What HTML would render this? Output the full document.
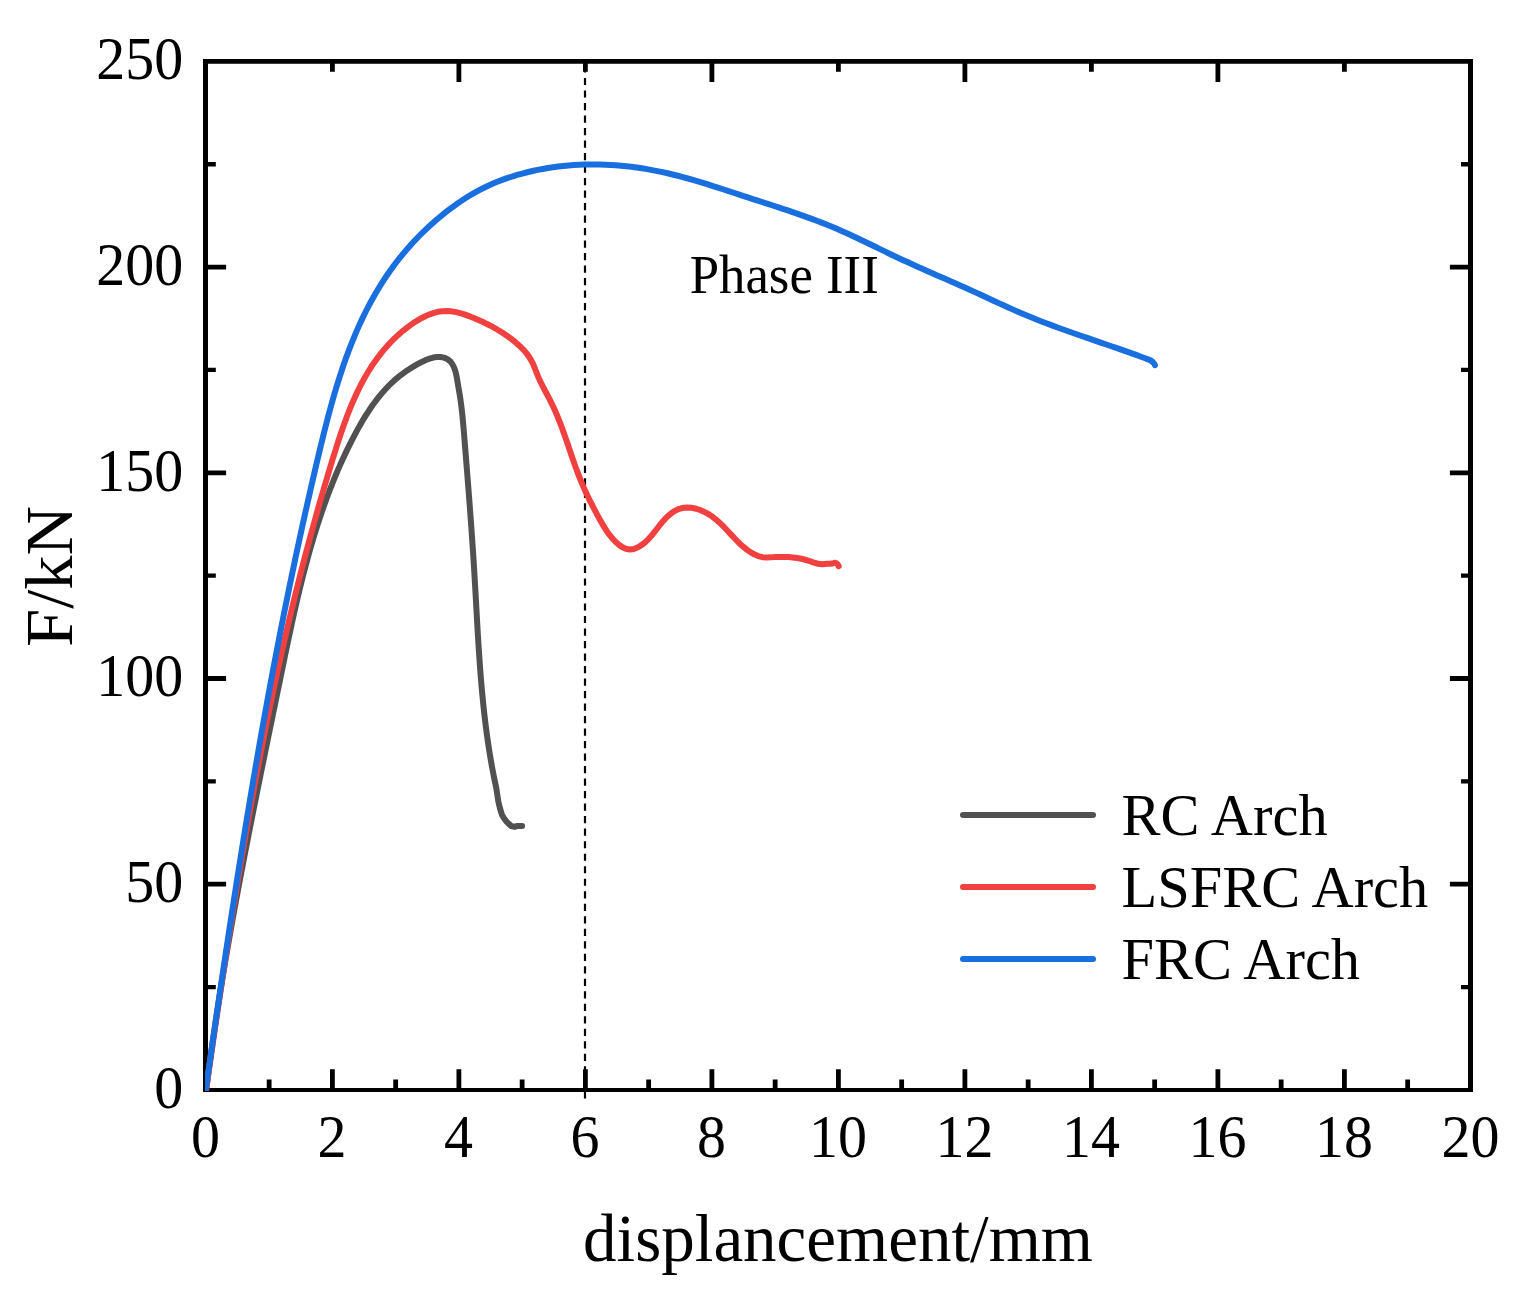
<!DOCTYPE html>
<html lang="en"><head><meta charset="utf-8"><title>F-displacement curves</title>
<style>
html,body{margin:0;padding:0;background:#fff;}
body{width:1520px;height:1295px;overflow:hidden;}
svg{display:block;}
text{font-family:"Liberation Serif",serif;fill:#000;}
</style></head><body>
<svg width="1520" height="1295" viewBox="0 0 1520 1295">
<rect x="0" y="0" width="1520" height="1295" fill="#fff"/>
<defs><clipPath id="clip"><rect x="205.00" y="59.00" width="1268.00" height="1031.80"/></clipPath></defs>
<path d="M203 58.9H1473V1091.9H203Z M208 63.8V1088H1468V63.8Z" fill="#000" fill-rule="evenodd"/>
<path d="M269.15 1089.90 V1079.60 M332.40 1089.90 V1069.30 M332.40 61.40 V71.70 M395.65 1089.90 V1079.60 M458.90 1089.90 V1069.30 M458.90 61.40 V82.00 M522.15 1089.90 V1079.60 M585.40 1089.90 V1069.30 M585.40 61.40 V71.70 M648.65 1089.90 V1079.60 M711.90 1089.90 V1069.30 M711.90 61.40 V82.00 M775.15 1089.90 V1079.60 M838.40 1089.90 V1069.30 M838.40 61.40 V71.70 M901.65 1089.90 V1079.60 M964.90 1089.90 V1069.30 M964.90 61.40 V82.00 M1028.15 1089.90 V1079.60 M1091.40 1089.90 V1069.30 M1091.40 61.40 V71.70 M1154.65 1089.90 V1079.60 M1217.90 1089.90 V1069.30 M1217.90 61.40 V82.00 M1281.15 1089.90 V1079.60 M1344.40 1089.90 V1069.30 M1344.40 61.40 V71.70 M1407.65 1089.90 V1079.60 M205.50 884.20 H226.10 M1470.50 884.20 H1449.90 M205.50 678.50 H226.10 M1470.50 678.50 H1449.90 M205.50 472.80 H226.10 M1470.50 472.80 H1449.90 M205.50 267.10 H226.10 M1470.50 267.10 H1449.90" stroke="#000" stroke-width="4.80" fill="none"/>
<path d="M205.50 987.05 H215.80 M1470.50 987.05 H1461.00 M205.50 781.35 H215.80 M1470.50 781.35 H1461.00 M205.50 575.65 H215.80 M1470.50 575.65 H1461.00 M205.50 369.95 H215.80 M1470.50 369.95 H1461.00 M205.50 164.25 H215.80 M1470.50 164.25 H1461.00" stroke="#000" stroke-width="4.3" fill="none"/>
<path d="M585.00 65.39 V1098.70" stroke="#000" stroke-width="2.2" stroke-dasharray="7.2 5.312" fill="none"/>
<g clip-path="url(#clip)" fill="none" stroke-width="6" stroke-linecap="round" stroke-linejoin="round">
<path d="M206.20 1090.24 L206.68 1086.40 L207.16 1082.57 L207.66 1078.73 L208.15 1074.90 L208.66 1071.06 L209.17 1067.23 L209.68 1063.39 L210.20 1059.56 L210.73 1055.73 L211.26 1051.89 L211.80 1048.06 L212.34 1044.23 L212.89 1040.40 L213.44 1036.57 L214.00 1032.74 L214.56 1028.91 L215.13 1025.08 L215.70 1021.25 L216.28 1017.42 L216.86 1013.59 L217.45 1009.77 L218.04 1005.94 L218.64 1002.11 L219.24 998.29 L219.85 994.46 L220.46 990.63 L221.08 986.81 L221.70 982.98 L222.32 979.16 L222.95 975.34 L223.59 971.51 L224.22 967.69 L224.87 963.87 L225.51 960.05 L226.16 956.22 L226.81 952.40 L227.47 948.58 L228.13 944.76 L228.80 940.94 L229.47 937.12 L230.14 933.30 L230.81 929.48 L231.49 925.67 L232.18 921.85 L232.86 918.03 L233.55 914.21 L234.25 910.40 L234.94 906.58 L235.64 902.76 L236.34 898.95 L237.05 895.13 L237.76 891.32 L238.47 887.50 L239.18 883.69 L239.90 879.87 L240.62 876.06 L241.34 872.25 L242.07 868.44 L242.80 864.62 L243.53 860.81 L244.26 857.00 L244.99 853.19 L245.73 849.38 L246.47 845.57 L247.21 841.76 L247.96 837.95 L248.70 834.14 L249.45 830.33 L250.20 826.52 L250.95 822.71 L251.71 818.91 L252.46 815.10 L253.22 811.29 L253.98 807.49 L254.74 803.68 L255.50 799.87 L256.26 796.07 L257.03 792.26 L257.80 788.46 L258.56 784.65 L259.33 780.85 L260.10 777.04 L260.87 773.24 L261.65 769.44 L262.42 765.64 L263.19 761.83 L263.97 758.03 L264.74 754.23 L265.52 750.43 L266.30 746.63 L267.08 742.83 L267.86 739.02 L268.63 735.22 L269.41 731.43 L270.19 727.63 L270.97 723.83 L271.76 720.03 L272.54 716.23 L273.32 712.43 L274.10 708.63 L274.88 704.84 L275.66 701.04 L276.44 697.24 L277.22 693.44 L278.00 689.65 L278.79 685.85 L279.57 682.06 L280.35 678.26 L281.13 674.47 L281.90 670.67 L282.69 666.88 L283.47 663.08 L284.25 659.29 L285.03 655.50 L285.82 651.71 L286.61 647.92 L287.41 644.13 L288.20 640.35 L289.01 636.56 L289.81 632.78 L290.63 629.00 L291.45 625.22 L292.27 621.44 L293.10 617.66 L293.94 613.89 L294.79 610.12 L295.65 606.35 L296.52 602.59 L297.39 598.83 L298.28 595.07 L299.17 591.31 L300.08 587.56 L301.00 583.81 L301.93 580.06 L302.87 576.32 L303.83 572.58 L304.80 568.85 L305.78 565.12 L306.78 561.39 L307.80 557.67 L308.83 553.95 L309.87 550.24 L310.94 546.53 L312.01 542.82 L313.11 539.13 L314.23 535.43 L315.36 531.74 L316.51 528.06 L317.69 524.38 L318.88 520.71 L320.09 517.04 L321.33 513.38 L322.58 509.72 L323.86 506.08 L325.16 502.43 L326.48 498.80 L327.83 495.17 L329.20 491.54 L330.60 487.92 L332.02 484.31 L333.47 480.71 L334.94 477.12 L336.44 473.53 L337.97 469.94 L339.52 466.37 L341.10 462.80 L342.71 459.25 L344.35 455.69 L346.02 452.15 L347.72 448.62 L349.45 445.09 L351.22 441.57 L353.01 438.06 L354.84 434.56 L356.70 431.08 L358.60 427.62 L360.55 424.18 L362.53 420.77 L364.57 417.40 L366.65 414.06 L368.79 410.77 L370.97 407.52 L373.22 404.32 L375.53 401.18 L377.89 398.10 L380.33 395.08 L382.82 392.13 L385.39 389.26 L388.04 386.46 L390.75 383.75 L393.55 381.13 L396.44 378.60 L399.40 376.18 L402.45 373.85 L405.56 371.60 L408.74 369.44 L412.00 367.37 L415.34 365.37 L418.77 363.46 L422.30 361.65 L425.91 360.00 L429.56 358.60 L433.23 357.56 L436.89 356.97 L440.50 356.97 L443.98 357.63 L447.22 359.00 L450.06 361.13 L452.34 364.01 L454.09 367.48 L455.39 371.32 L456.36 375.31 L457.11 379.33 L457.78 383.30 L458.44 387.17 L459.09 390.98 L459.71 394.76 L460.30 398.53 L460.84 402.32 L461.33 406.13 L461.79 409.95 L462.21 413.79 L462.60 417.64 L462.96 421.50 L463.31 425.36 L463.64 429.23 L463.96 433.10 L464.28 436.97 L464.60 440.85 L464.91 444.72 L465.22 448.59 L465.54 452.46 L465.85 456.33 L466.16 460.19 L466.47 464.06 L466.78 467.93 L467.09 471.79 L467.40 475.66 L467.70 479.52 L468.01 483.39 L468.31 487.25 L468.61 491.12 L468.91 494.98 L469.21 498.84 L469.50 502.71 L469.79 506.57 L470.08 510.43 L470.37 514.30 L470.66 518.16 L470.94 522.02 L471.22 525.88 L471.50 529.75 L471.77 533.61 L472.04 537.47 L472.31 541.34 L472.57 545.20 L472.83 549.07 L473.09 552.93 L473.34 556.80 L473.59 560.66 L473.83 564.53 L474.07 568.40 L474.31 572.27 L474.54 576.13 L474.77 580.00 L475.00 583.87 L475.22 587.74 L475.44 591.62 L475.66 595.49 L475.87 599.36 L476.09 603.23 L476.30 607.10 L476.52 610.98 L476.74 614.85 L476.95 618.72 L477.17 622.59 L477.40 626.47 L477.62 630.34 L477.85 634.21 L478.09 638.08 L478.32 641.95 L478.57 645.82 L478.82 649.69 L479.07 653.56 L479.34 657.43 L479.61 661.30 L479.88 665.16 L480.17 669.03 L480.47 672.90 L480.77 676.76 L481.09 680.62 L481.41 684.48 L481.75 688.34 L482.10 692.20 L482.46 696.06 L482.84 699.91 L483.23 703.77 L483.63 707.62 L484.05 711.47 L484.48 715.32 L484.92 719.16 L485.39 723.01 L485.87 726.85 L486.37 730.69 L486.88 734.53 L487.42 738.36 L487.97 742.20 L488.54 746.03 L489.13 749.86 L489.75 753.68 L490.38 757.51 L491.03 761.33 L491.71 765.14 L492.41 768.96 L493.14 772.77 L493.88 776.58 L494.66 780.38 L495.45 784.19 L496.27 787.99 L498.40 801.90 L500.00 808.50 L501.90 814.70 L504.00 818.30 L506.50 821.60 L511.10 826.00 L514.60 826.80 L517.50 825.90 L522.10 825.90" stroke="#515151"/>
<path d="M205.97 1090.44 L206.59 1086.10 L207.22 1081.75 L207.84 1077.41 L208.47 1073.07 L209.10 1068.73 L209.73 1064.39 L210.36 1060.05 L210.99 1055.71 L211.62 1051.37 L212.25 1047.04 L212.88 1042.70 L213.51 1038.37 L214.15 1034.04 L214.78 1029.71 L215.42 1025.38 L216.06 1021.05 L216.70 1016.72 L217.34 1012.39 L217.98 1008.07 L218.62 1003.74 L219.27 999.42 L219.92 995.09 L220.56 990.77 L221.21 986.45 L221.87 982.13 L222.52 977.81 L223.18 973.49 L223.83 969.18 L224.49 964.86 L225.15 960.55 L225.82 956.23 L226.48 951.92 L227.15 947.61 L227.82 943.30 L228.49 938.99 L229.17 934.68 L229.85 930.37 L230.53 926.07 L231.21 921.76 L231.89 917.46 L232.58 913.15 L233.27 908.85 L233.96 904.55 L234.66 900.25 L235.36 895.95 L236.06 891.65 L236.76 887.35 L237.47 883.05 L238.18 878.76 L238.90 874.46 L239.61 870.17 L240.33 865.88 L241.06 861.58 L241.78 857.29 L242.51 853.00 L243.25 848.71 L243.98 844.43 L244.73 840.14 L245.47 835.85 L246.22 831.57 L246.97 827.28 L247.73 823.00 L248.49 818.71 L249.25 814.43 L250.02 810.15 L250.79 805.87 L251.57 801.59 L252.34 797.31 L253.13 793.04 L253.92 788.76 L254.71 784.49 L255.51 780.21 L256.31 775.94 L257.11 771.66 L257.93 767.39 L258.74 763.12 L259.56 758.85 L260.38 754.58 L261.21 750.31 L262.05 746.05 L262.89 741.78 L263.73 737.51 L264.58 733.25 L265.43 728.98 L266.29 724.72 L267.16 720.46 L268.03 716.20 L268.90 711.94 L269.78 707.68 L270.67 703.42 L271.56 699.16 L272.45 694.90 L273.35 690.65 L274.26 686.39 L275.17 682.13 L276.09 677.88 L277.02 673.63 L277.95 669.37 L278.88 665.12 L279.83 660.87 L280.77 656.62 L281.73 652.37 L282.69 648.12 L283.65 643.88 L284.63 639.63 L285.61 635.38 L286.59 631.14 L287.58 626.89 L288.58 622.65 L289.58 618.41 L290.60 614.17 L291.61 609.92 L292.64 605.68 L293.67 601.44 L294.71 597.21 L295.75 592.97 L296.80 588.73 L297.86 584.49 L298.93 580.26 L300.00 576.02 L301.08 571.79 L302.16 567.55 L303.26 563.32 L304.36 559.09 L305.47 554.86 L306.58 550.63 L307.71 546.40 L308.84 542.17 L309.98 537.94 L311.12 533.71 L312.27 529.48 L313.44 525.26 L314.61 521.03 L315.78 516.81 L316.97 512.58 L318.16 508.36 L319.36 504.14 L320.57 499.91 L321.79 495.69 L323.01 491.47 L324.24 487.25 L325.49 483.03 L326.74 478.81 L327.99 474.59 L329.26 470.38 L330.54 466.16 L331.82 461.94 L333.11 457.73 L334.41 453.52 L335.73 449.31 L337.06 445.10 L338.41 440.91 L339.79 436.73 L341.19 432.56 L342.62 428.40 L344.08 424.27 L345.57 420.15 L347.10 416.06 L348.68 411.99 L350.30 407.95 L351.96 403.94 L353.68 399.96 L355.45 396.02 L357.27 392.11 L359.16 388.24 L361.10 384.41 L363.11 380.62 L365.19 376.88 L367.35 373.19 L369.57 369.55 L371.88 365.96 L374.27 362.42 L376.74 358.95 L379.29 355.53 L381.94 352.17 L384.68 348.88 L387.52 345.66 L390.45 342.49 L393.49 339.40 L396.63 336.38 L399.89 333.44 L403.27 330.58 L406.77 327.81 L410.39 325.14 L414.10 322.58 L417.91 320.19 L421.80 317.98 L425.75 316.00 L429.77 314.29 L433.85 312.89 L437.97 311.83 L442.15 311.18 L446.37 310.96 L450.64 311.21 L454.93 311.87 L459.24 312.88 L463.53 314.17 L467.79 315.67 L471.99 317.30 L476.11 319.00 L480.15 320.76 L484.11 322.58 L487.99 324.47 L491.81 326.45 L495.56 328.53 L499.25 330.71 L502.88 333.00 L506.46 335.41 L509.99 337.95 L513.47 340.63 L516.88 343.45 L520.17 346.43 L523.28 349.57 L526.18 352.88 L528.79 356.38 L531.09 360.07 L533.03 363.95 L534.72 367.97 L536.31 372.04 L537.94 376.10 L539.70 380.09 L541.59 384.01 L543.57 387.90 L545.60 391.76 L547.64 395.61 L549.66 399.47 L551.63 403.36 L553.50 407.29 L555.30 411.27 L557.02 415.28 L558.67 419.32 L560.27 423.39 L561.82 427.49 L563.32 431.60 L564.79 435.73 L566.23 439.87 L567.65 444.02 L569.06 448.16 L570.47 452.31 L571.88 456.45 L573.31 460.59 L574.76 464.70 L576.23 468.80 L577.75 472.88 L579.31 476.93 L580.92 480.94 L582.59 484.93 L584.32 488.88 L586.11 492.80 L587.96 496.71 L589.86 500.59 L591.81 504.47 L593.81 508.34 L595.86 512.21 L597.95 516.08 L600.09 519.96 L602.29 523.84 L604.57 527.66 L606.98 531.39 L609.54 534.98 L612.30 538.38 L615.29 541.55 L618.53 544.45 L622.06 546.96 L625.83 548.77 L629.80 549.51 L633.90 548.93 L637.98 547.28 L641.85 544.90 L645.36 542.11 L648.51 539.06 L651.41 535.82 L654.15 532.43 L656.81 528.96 L659.50 525.48 L662.30 522.03 L665.29 518.69 L668.50 515.58 L671.91 512.81 L675.54 510.51 L679.37 508.79 L683.42 507.78 L687.63 507.49 L691.94 507.84 L696.27 508.76 L700.53 510.18 L704.67 512.01 L708.59 514.17 L712.27 516.61 L715.73 519.28 L719.01 522.14 L722.15 525.14 L725.19 528.25 L728.17 531.43 L731.12 534.64 L734.08 537.83 L737.09 540.97 L740.19 544.01 L743.42 546.91 L746.81 549.64 L750.41 552.15 L754.20 554.33 L758.18 556.05 L762.32 557.14 L766.60 557.52 L770.97 557.37 L775.37 557.11 L779.75 556.95 L784.12 556.93 L788.47 557.07 L792.79 557.40 L797.08 557.94 L801.34 558.72 L805.56 559.77 L809.73 561.10 L813.89 562.55 L818.08 563.75 L822.36 564.31 L826.79 563.84 L830.00 563.80 L832.40 563.50 L834.70 562.80 L836.20 563.10 L837.30 564.00 L838.20 565.30 L838.70 566.20" stroke="#F14040"/>
<path d="M205.66 1090.65 L206.41 1085.39 L207.17 1080.12 L207.92 1074.86 L208.68 1069.61 L209.44 1064.35 L210.20 1059.10 L210.95 1053.86 L211.71 1048.61 L212.47 1043.37 L213.23 1038.14 L214.00 1032.90 L214.76 1027.67 L215.52 1022.44 L216.28 1017.22 L217.05 1012.00 L217.82 1006.78 L218.58 1001.56 L219.35 996.35 L220.12 991.14 L220.89 985.93 L221.66 980.72 L222.44 975.52 L223.21 970.32 L223.99 965.12 L224.77 959.93 L225.55 954.74 L226.33 949.54 L227.11 944.36 L227.90 939.17 L228.69 933.99 L229.48 928.81 L230.27 923.63 L231.06 918.45 L231.86 913.28 L232.66 908.10 L233.46 902.93 L234.26 897.76 L235.06 892.60 L235.87 887.43 L236.68 882.27 L237.49 877.11 L238.31 871.95 L239.13 866.79 L239.95 861.63 L240.77 856.48 L241.60 851.33 L242.43 846.18 L243.26 841.03 L244.09 835.88 L244.93 830.73 L245.77 825.58 L246.62 820.44 L247.46 815.30 L248.31 810.15 L249.17 805.01 L250.03 799.87 L250.89 794.73 L251.75 789.60 L252.62 784.46 L253.49 779.32 L254.37 774.19 L255.25 769.05 L256.13 763.92 L257.02 758.79 L257.91 753.66 L258.81 748.52 L259.71 743.39 L260.61 738.26 L261.52 733.13 L262.43 728.00 L263.35 722.88 L264.27 717.75 L265.19 712.62 L266.12 707.49 L267.06 702.37 L268.00 697.24 L268.94 692.11 L269.89 686.98 L270.84 681.86 L271.80 676.73 L272.76 671.61 L273.73 666.48 L274.70 661.35 L275.68 656.23 L276.67 651.10 L277.65 645.97 L278.65 640.84 L279.65 635.72 L280.65 630.59 L281.66 625.46 L282.68 620.33 L283.70 615.20 L284.72 610.07 L285.76 604.94 L286.79 599.81 L287.84 594.68 L288.89 589.54 L289.94 584.41 L291.00 579.28 L292.07 574.14 L293.15 569.01 L294.23 563.87 L295.31 558.73 L296.40 553.59 L297.50 548.45 L298.61 543.31 L299.72 538.17 L300.84 533.03 L301.96 527.88 L303.09 522.74 L304.23 517.59 L305.37 512.44 L306.53 507.29 L307.68 502.14 L308.85 496.99 L310.02 491.83 L311.20 486.68 L312.39 481.52 L313.58 476.36 L314.78 471.20 L315.99 466.04 L317.20 460.87 L318.43 455.71 L319.66 450.54 L320.90 445.37 L322.16 440.21 L323.43 435.05 L324.72 429.89 L326.03 424.74 L327.36 419.59 L328.71 414.46 L330.09 409.33 L331.50 404.21 L332.93 399.11 L334.40 394.02 L335.90 388.94 L337.44 383.88 L339.02 378.84 L340.63 373.82 L342.29 368.81 L343.99 363.83 L345.73 358.86 L347.53 353.93 L349.37 349.01 L351.27 344.12 L353.22 339.26 L355.22 334.43 L357.29 329.63 L359.41 324.86 L361.60 320.12 L363.84 315.42 L366.16 310.75 L368.54 306.11 L371.00 301.51 L373.52 296.96 L376.13 292.44 L378.80 287.96 L381.56 283.53 L384.39 279.14 L387.31 274.79 L390.30 270.50 L393.37 266.26 L396.52 262.07 L399.74 257.94 L403.04 253.86 L406.41 249.85 L409.86 245.91 L413.38 242.03 L416.97 238.22 L420.63 234.48 L424.36 230.83 L428.15 227.24 L432.01 223.74 L435.92 220.30 L439.90 216.95 L443.93 213.67 L448.02 210.47 L452.16 207.35 L456.36 204.31 L460.62 201.37 L464.95 198.52 L469.34 195.77 L473.81 193.14 L478.35 190.62 L482.97 188.23 L487.67 185.97 L492.43 183.83 L497.27 181.81 L502.16 179.92 L507.11 178.16 L512.11 176.51 L517.14 174.98 L522.21 173.56 L527.29 172.24 L532.40 171.04 L537.52 169.94 L542.66 168.94 L547.81 168.04 L552.98 167.24 L558.16 166.54 L563.36 165.95 L568.57 165.45 L573.79 165.05 L579.02 164.76 L584.26 164.55 L589.50 164.45 L594.74 164.44 L599.99 164.52 L605.24 164.69 L610.49 164.95 L615.73 165.30 L620.97 165.73 L626.20 166.25 L631.42 166.85 L636.63 167.54 L641.83 168.31 L647.01 169.15 L652.18 170.08 L657.33 171.08 L662.46 172.15 L667.57 173.30 L672.67 174.51 L677.74 175.78 L682.80 177.12 L687.85 178.50 L692.88 179.93 L697.90 181.41 L702.91 182.92 L707.92 184.47 L712.91 186.04 L717.91 187.63 L722.89 189.25 L727.88 190.87 L732.86 192.51 L737.85 194.15 L742.83 195.78 L747.82 197.42 L752.82 199.04 L757.81 200.65 L762.81 202.27 L767.81 203.88 L772.80 205.51 L777.79 207.14 L782.78 208.78 L787.75 210.44 L792.72 212.12 L797.68 213.83 L802.63 215.57 L807.57 217.34 L812.49 219.14 L817.39 220.99 L822.27 222.87 L827.14 224.81 L831.98 226.80 L836.80 228.84 L841.60 230.94 L846.38 233.08 L851.15 235.26 L855.90 237.48 L860.64 239.72 L865.37 241.99 L870.09 244.27 L874.81 246.56 L879.52 248.86 L884.24 251.15 L888.97 253.43 L893.70 255.70 L898.43 257.94 L903.18 260.16 L907.94 262.35 L912.71 264.52 L917.49 266.67 L922.28 268.80 L927.07 270.92 L931.86 273.03 L936.66 275.13 L941.46 277.23 L946.26 279.33 L951.06 281.44 L955.85 283.55 L960.64 285.67 L965.43 287.80 L970.21 289.95 L974.97 292.13 L979.74 294.32 L984.49 296.52 L989.25 298.72 L994.01 300.93 L998.77 303.13 L1003.53 305.31 L1008.30 307.48 L1013.08 309.62 L1017.88 311.73 L1022.69 313.80 L1027.52 315.84 L1032.36 317.82 L1037.23 319.77 L1042.11 321.68 L1047.00 323.56 L1051.90 325.41 L1056.82 327.23 L1061.75 329.02 L1066.69 330.79 L1071.63 332.54 L1076.58 334.27 L1081.54 336.00 L1086.50 337.71 L1091.46 339.41 L1096.43 341.11 L1101.39 342.81 L1106.35 344.51 L1111.32 346.22 L1116.27 347.93 L1121.23 349.66 L1126.17 351.39 L1131.11 353.15 L1136.05 354.92 L1140.97 356.72 L1145.88 358.54 L1149.00 359.60 L1151.60 361.00 L1153.30 362.60 L1154.40 364.00 L1154.90 365.20" stroke="#1A6FDF"/>
</g>
<text transform="translate(205.50 1157.00) scale(1 1.055)" font-size="58" text-anchor="middle">0</text>
<text transform="translate(332.00 1157.00) scale(1 1.055)" font-size="58" text-anchor="middle">2</text>
<text transform="translate(458.50 1157.00) scale(1 1.055)" font-size="58" text-anchor="middle">4</text>
<text transform="translate(585.00 1157.00) scale(1 1.055)" font-size="58" text-anchor="middle">6</text>
<text transform="translate(711.50 1157.00) scale(1 1.055)" font-size="58" text-anchor="middle">8</text>
<text transform="translate(838.00 1157.00) scale(1 1.055)" font-size="58" text-anchor="middle">10</text>
<text transform="translate(964.50 1157.00) scale(1 1.055)" font-size="58" text-anchor="middle">12</text>
<text transform="translate(1091.00 1157.00) scale(1 1.055)" font-size="58" text-anchor="middle">14</text>
<text transform="translate(1217.50 1157.00) scale(1 1.055)" font-size="58" text-anchor="middle">16</text>
<text transform="translate(1344.00 1157.00) scale(1 1.055)" font-size="58" text-anchor="middle">18</text>
<text transform="translate(1470.50 1157.00) scale(1 1.055)" font-size="58" text-anchor="middle">20</text>
<text transform="translate(183.30 1107.70) scale(1 1.055)" font-size="58" text-anchor="end">0</text>
<text transform="translate(183.30 902.00) scale(1 1.055)" font-size="58" text-anchor="end">50</text>
<text transform="translate(183.30 696.30) scale(1 1.055)" font-size="58" text-anchor="end">100</text>
<text transform="translate(183.30 490.60) scale(1 1.055)" font-size="58" text-anchor="end">150</text>
<text transform="translate(183.30 284.90) scale(1 1.055)" font-size="58" text-anchor="end">200</text>
<text transform="translate(183.30 79.20) scale(1 1.055)" font-size="58" text-anchor="end">250</text>
<text x="838" y="1261" font-size="67" text-anchor="middle">displancement/mm</text>
<text transform="translate(71.6 576.4) rotate(-90)" font-size="68.6" text-anchor="middle">F/kN</text>
<text transform="translate(689.7 292.8) scale(1 1.03)" font-size="52.8">Phase III</text>
<path d="M963 815.0 H1093" stroke="#515151" stroke-width="6" stroke-linecap="round" fill="none"/>
<text x="1121.6" y="835.0" font-size="58.4">RC Arch</text>
<path d="M963 887.0 H1093" stroke="#F14040" stroke-width="6" stroke-linecap="round" fill="none"/>
<text x="1121.6" y="907.0" font-size="58.4">LSFRC Arch</text>
<path d="M963 959.0 H1093" stroke="#1A6FDF" stroke-width="6" stroke-linecap="round" fill="none"/>
<text x="1121.6" y="979.0" font-size="58.4">FRC Arch</text>
</svg>
</body></html>
